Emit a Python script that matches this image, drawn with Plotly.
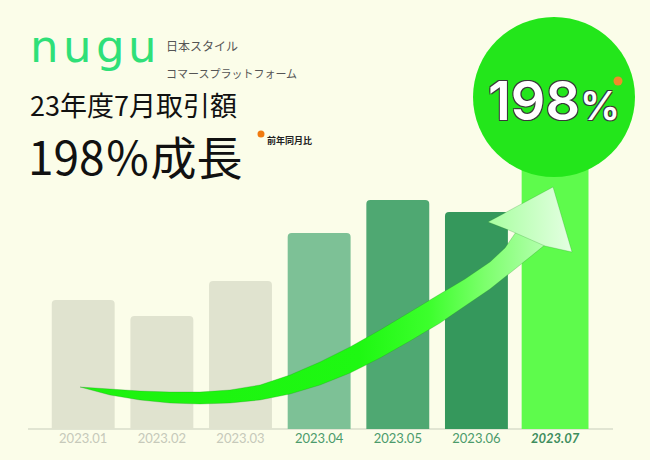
import plotly.graph_objects as go

# ---------------- data ----------------
months = ["2023.01", "2023.02", "2023.03", "2023.04", "2023.05", "2023.06", "2023.07"]
sales_index = [129, 113, 148, 196, 229, 217, 265]
growth_label = "198"
title_line1 = "23年度7月取引額"
title_line2 = "198％成長"
note_label = "前年同月比"
brand = "nugu"
brand_sub1 = "日本スタイル"
brand_sub2 = "コマースプラットフォーム"

# ---------------- styles ----------------
W, H = 650, 460
BG = "#fbfde9"
bar_colors = ["#e0e3cf", "#e0e3cf", "#e0e3cf", "#7dc196", "#4fa872", "#35985c", "#5efb4c"]
tick_colors = ["#c6c9ba", "#c6c9ba", "#c6c9ba", "#4b9b6b", "#4b9b6b", "#4b9b6b", "#3e8e5e"]
bar_widths = [0.8] * 6 + [0.85]


def px(x):
    return x / W


def py(y):
    return 1 - y / H


ticktext = []
for i, (m, c) in enumerate(zip(months, tick_colors)):
    if i == len(months) - 1:
        ticktext.append(f'<span style="color:{c}"><b><i>{m}</i></b></span>')
    else:
        ticktext.append(f'<span style="color:{c}">{m}</span>')

fig = go.Figure()
fig.add_trace(go.Bar(
    x=months, y=sales_index, width=bar_widths,
    marker=dict(color=bar_colors, line=dict(width=0)),
    hoverinfo="skip", xaxis="x", yaxis="y",
))

# decorative curved arrow (pixel-space overlay)
upper_x = [80, 110, 140, 170, 200, 230, 260, 290, 320, 350, 380, 410, 440, 465, 490, 505, 516]
upper_y = [387, 389, 391, 392, 392, 390, 385, 375, 362, 347, 330, 312, 294, 279, 262, 248, 232]
lower_x = [546, 530, 510, 490, 465, 440, 410, 380, 350, 320, 290, 260, 230, 200, 170, 140, 110, 80]
lower_y = [244, 257, 273, 289, 306, 323, 341, 358, 373, 385, 394, 400, 403, 404, 403, 400, 395, 387]
fig.add_trace(go.Scatter(
    x=upper_x + lower_x, y=upper_y + lower_y, mode="lines", fill="toself",
    line=dict(width=0.8, color="rgba(30,140,30,0.35)"),
    fillgradient=dict(type="horizontal", start=80, stop=545,
                      colorscale=[[0, "#1cf20e"], [0.6, "#1ef812"], [0.75, "#3cff2c"],
                                  [0.87, "#7cff6c"], [1, "#b4ffae"]]),
    hoverinfo="skip", xaxis="x2", yaxis="y2", showlegend=False,
))
head_x = [511, 488, 553, 572, 545, 511]
head_y = [231, 222, 187, 252, 246, 231]
fig.add_trace(go.Scatter(
    x=head_x, y=head_y, mode="lines", fill="toself",
    line=dict(width=0.8, color="rgba(30,140,30,0.3)"),
    fillgradient=dict(type="horizontal", start=488, stop=572,
                      colorscale=[[0, "#a8ffa0"], [1, "#e4ffe2"]]),
    hoverinfo="skip", xaxis="x2", yaxis="y2", showlegend=False,
))

shapes = [
    dict(type="line", xref="paper", yref="paper", x0=px(28), x1=px(613), y0=py(429), y1=py(429),
         line=dict(color="#e1e5d2", width=2), layer="below"),
    dict(type="circle", xref="paper", yref="paper", x0=px(473), x1=px(635), y0=py(177), y1=py(17),
         fillcolor="#23e61b", line=dict(width=0), layer="above"),
    dict(type="circle", xref="paper", yref="paper", x0=px(613.5), x1=px(622.5), y0=py(85.5), y1=py(76.5),
         fillcolor="#f08a2a", line=dict(width=0), layer="above"),
    dict(type="circle", xref="paper", yref="paper", x0=px(257.5), x1=px(264.5), y0=py(137.5), y1=py(130.5),
         fillcolor="#f07a10", line=dict(width=0), layer="above"),
]

annotations = []
# brand logo letters
for ch, cx in zip(brand, [44, 77, 110, 142]):
    annotations.append(dict(text=ch, x=px(cx), y=py(47), xanchor="center", yanchor="middle",
                            font=dict(family="DejaVu Sans", size=45, color="#2fe078")))
annotations += [
    dict(text=brand_sub1, x=px(164), y=py(46), xanchor="left", yanchor="middle",
         font=dict(family="Noto Sans CJK JP", size=12, color="#555555")),
    dict(text=brand_sub2, x=px(164), y=py(73), xanchor="left", yanchor="middle",
         font=dict(family="Noto Sans CJK JP", size=11, color="#555555")),
    dict(text=title_line1, x=px(28), y=py(104), xanchor="left", yanchor="middle",
         font=dict(family="Noto Sans CJK JP", size=27, color="#111111")),
    dict(text=title_line2, x=px(26), y=py(155), xanchor="left", yanchor="middle",
         font=dict(family="Noto Sans CJK JP", size=46, color="#111111")),
    dict(text=f"<b>{note_label}</b>", x=px(265), y=py(140), xanchor="left", yanchor="middle",
         font=dict(family="Noto Sans CJK JP", size=9, color="#222222")),
    dict(text=growth_label + '<span style="font-size:40px">%</span>', x=px(554), y=py(101),
         xanchor="center", yanchor="middle",
         font=dict(family="Inter", size=54, color="#ffffff", weight=600,
                   shadow="-1px -1px 0 #3a3a3a, 1px -1px 0 #3a3a3a, -1px 1px 0 #3a3a3a, 1px 1px 0 #3a3a3a")),
]
for a in annotations:
    a.setdefault("xref", "paper")
    a.setdefault("yref", "paper")
    a.setdefault("showarrow", False)

fig.update_layout(
    width=W, height=H,
    margin=dict(l=0, r=0, t=0, b=0),
    paper_bgcolor=BG, plot_bgcolor="rgba(0,0,0,0)",
    showlegend=False, bargap=0.2, barcornerradius=4,
    xaxis=dict(domain=[43.9 / W, 594.4 / W], anchor="y", type="category",
               tickvals=months, ticktext=ticktext, showgrid=False, zeroline=False,
               showline=False, ticks="", tickfont=dict(family="Lato", size=13),
               range=[-0.5, 6.5], fixedrange=True),
    yaxis=dict(domain=[31 / H, 1], anchor="x", range=[0, 429], visible=False, fixedrange=True),
    xaxis2=dict(domain=[0, 1], anchor="y2", range=[0, W], visible=False, fixedrange=True),
    yaxis2=dict(domain=[0, 1], anchor="x2", range=[H, 0], visible=False, fixedrange=True),
    shapes=shapes, annotations=annotations,
)

fig.write_html("out.html", config={"displayModeBar": False},
               post_script="document.body.style.margin='0';")
